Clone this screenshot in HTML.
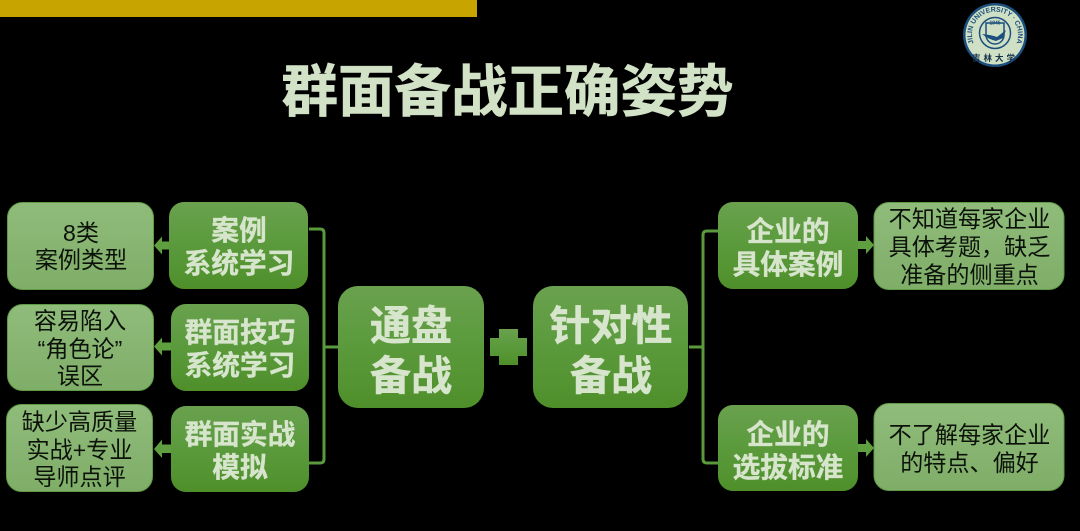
<!DOCTYPE html>
<html><head><meta charset="utf-8">
<style>
html,body{margin:0;padding:0;background:#000;}
#p{position:relative;width:1080px;height:531px;overflow:hidden;background:#000;}
svg{position:absolute;left:0;top:0;filter:blur(0.35px);}
text{font-family:"Liberation Sans","Noto Sans CJK SC",sans-serif;text-anchor:middle;}
.t{font-size:56.5px;font-weight:700;fill:#d2e2c6;stroke:#d2e2c6;stroke-width:.6px;}
.d{font-size:27.7px;font-weight:700;fill:#d6e5cc;stroke:#d6e5cc;stroke-width:.35px;}
.b{font-size:41px;font-weight:700;fill:#d6e5cc;stroke:#d6e5cc;stroke-width:.5px;}
.l{font-size:23.1px;fill:#0c120a;}
</style></head><body><div id="p">
<svg width="1080" height="531" viewBox="0 0 1080 531">
<defs>
<linearGradient id="g1" x1="0" y1="0" x2="0" y2="1"><stop offset="0" stop-color="#6aa14e"/><stop offset="0.5" stop-color="#5a9a3c"/><stop offset="1" stop-color="#4f8f2a"/></linearGradient>
<linearGradient id="g2" x1="0" y1="0" x2="0" y2="1"><stop offset="0" stop-color="#90bc7b"/><stop offset="1" stop-color="#7fae68"/></linearGradient>
</defs>
<rect x="0" y="0" width="477" height="17" fill="#c8a400"/>

<!-- seal -->
<circle cx="995" cy="35" r="32" fill="#1c4f7e"/>
<circle cx="995" cy="35" r="29.500" fill="#cfe0c4"/>
<circle cx="995" cy="33" r="15.500" fill="none" stroke="#1c4f7e" stroke-width="1.500"/>
<path d="M986 23h18v12a9 9 0 0 1-18 0z" fill="none" stroke="#1c4f7e" stroke-width="1.500"/>
<path d="M982 34q10 1 15 3l9-7-3 8-7 3q-8-2-14-7z" fill="#1c4f7e"/>
<text x="995" y="24.500" style="font-size:5px;fill:#1c4f7e;font-weight:700">1946</text>
<path id="arc" d="M975 46A23 23 0 1 1 1015 46" fill="none"/>
<text style="font-size:7px;fill:#1c4f7e;font-weight:700"><textPath href="#arc" startOffset="50%">JILIN UNIVERSITY · CHINA</textPath></text>
<text x="995" y="61" style="font-size:8.500px;fill:#16314a;font-weight:700;letter-spacing:3px">吉林大学</text>

<text class="t" x="507.5" y="111">群面备战正确姿势</text>

<!-- connectors -->
<g fill="none" stroke="#5a9a3c" stroke-width="3">
<path d="M309 229h11q4 0 4 4v226q0 4-4 4h-11"/>
<path d="M324 347h14"/>
<path d="M689 347h13"/>
<path d="M718 231h-11q-4 0-4 4v224q0 4 4 4h11"/>
</g>
<!-- arrows -->
<g fill="#5f9f40">
<path d="M170 241.500h-8v-5l-8 9 8 9v-5h8z"/>
<path d="M171 342.500h-9v-5l-8 9 8 9v-5h9z"/>
<path d="M171 444.500h-9v-5l-8 9.500 8 9v-5h9z"/>
<path d="M857 241h9v-5l8 9-8 9v-5h-9z"/>
<path d="M857 444h9v-5l8 9-8 9v-5h-9z"/>
</g>
<!-- plus -->
<path d="M499 329h19v9h9v18h-9v9h-19v-9h-9v-18h9z" fill="url(#g1)"/>

<!-- light boxes -->
<g fill="url(#g2)" stroke="#5f9a45" stroke-width="1">
<rect x="7.500" y="202.500" width="146" height="87" rx="15"/>
<rect x="7.500" y="304.500" width="146" height="86" rx="15"/>
<rect x="6.500" y="404.500" width="146" height="87" rx="15"/>
<rect x="874" y="202.500" width="190" height="87" rx="15"/>
<rect x="874" y="403.500" width="190" height="87" rx="15"/>
</g>
<!-- dark boxes -->
<g fill="url(#g1)">
<rect x="169" y="202" width="139" height="87" rx="15"/>
<rect x="171" y="304" width="138" height="87" rx="15"/>
<rect x="171" y="406" width="138" height="86" rx="15"/>
<rect x="338" y="286" width="146" height="122" rx="20"/>
<rect x="533" y="286" width="155" height="122" rx="20"/>
<rect x="718" y="202" width="140" height="87" rx="15"/>
<rect x="718" y="405" width="140" height="86" rx="15"/>
</g>

<g>
<text class="d" x="239" y="240">案例</text>
<text class="d" x="239" y="273">系统学习</text>
<text class="d" x="240" y="342">群面技巧</text>
<text class="d" x="240" y="375">系统学习</text>
<text class="d" x="240" y="444">群面实战</text>
<text class="d" x="240" y="477">模拟</text>
<text class="b" x="411" y="340">通盘</text>
<text class="b" x="411" y="390">备战</text>
<text class="b" x="611" y="340">针对性</text>
<text class="b" x="611" y="390">备战</text>
<text class="d" x="788" y="241">企业的</text>
<text class="d" x="788" y="274">具体案例</text>
<text class="d" x="788" y="444">企业的</text>
<text class="d" x="788" y="477">选拔标准</text>
</g>
<g>
<text class="l" x="81" y="241">8类</text>
<text class="l" x="81" y="268">案例类型</text>
<text class="l" x="80" y="329">容易陷入</text>
<text class="l" x="80" y="357">“角色论”</text>
<text class="l" x="80" y="384">误区</text>
<text class="l" x="79.500" y="430">缺少高质量</text>
<text class="l" x="79.500" y="458">实战+专业</text>
<text class="l" x="79.500" y="485">导师点评</text>
<text class="l" x="969.500" y="227">不知道每家企业</text>
<text class="l" x="969.500" y="255">具体考题，缺乏</text>
<text class="l" x="969.500" y="283">准备的侧重点</text>
<text class="l" x="969.500" y="443">不了解每家企业</text>
<text class="l" x="969.500" y="471">的特点、偏好</text>
</g>
</svg>
</div></body></html>
